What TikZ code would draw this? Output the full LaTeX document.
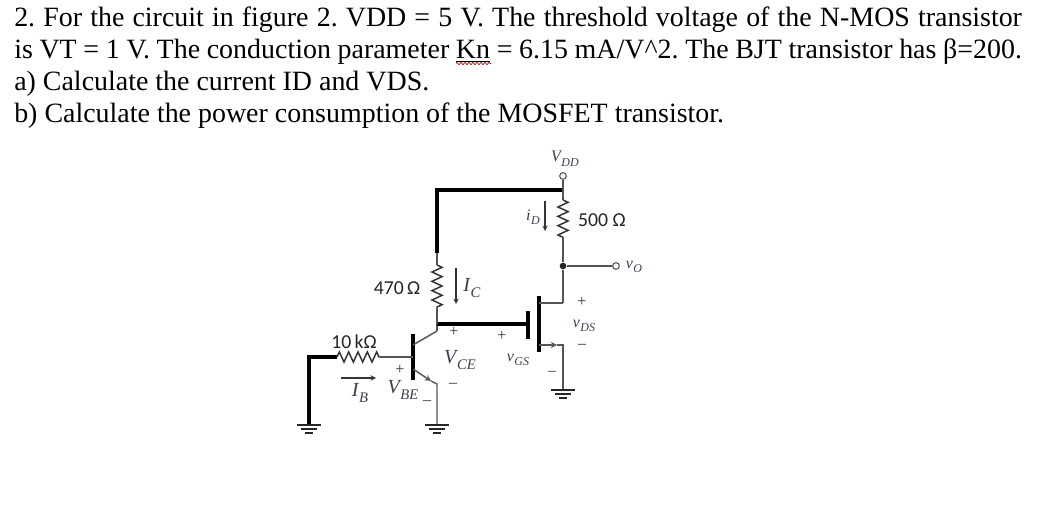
\documentclass[tikz,border=0pt]{standalone}
\usepackage{fontspec}
\setmainfont{Liberation Serif}
\newfontfamily\labelfont{Carlito}
\usetikzlibrary{decorations.pathmorphing}

\definecolor{wiregray}{HTML}{555555}
\definecolor{labelgray}{HTML}{3A4050}
\newcommand{\sublbl}[3]{{\itshape #1}\kern0.03em\raisebox{-0.28em}{\fontsize{#3}{#3}\selectfont\itshape #2}}

\tikzset{
  wire/.style={draw=wiregray,line width=1.1pt},
  busw/.style={draw=black,line width=2.9pt},
  plate/.style={draw=black,line width=2.5pt},
  resv/.style={draw=black!80,line width=1.1pt,decorate,
    decoration={zigzag,segment length=7pt,amplitude=3.8pt}},
  gnd/.style={draw=black!85,line width=1pt},
  curr/.style={draw=black!80,line width=0.8pt,-stealth},
  pin/.style={circle,draw=wiregray,fill=white,line width=0.8pt,inner sep=0pt,minimum size=5pt},
  dot/.style={circle,fill=black!85,inner sep=0pt,minimum size=5pt},
  para/.style={anchor=base west,inner sep=0pt,font=\fontsize{20.95}{24}\selectfont\frenchspacing},
  ohm/.style={inner sep=0pt,text=black!85,font=\labelfont\fontsize{14.8}{16}\selectfont},
  sym/.style={inner sep=0pt,text=labelgray,font=\fontsize{15}{16}\selectfont},
  small/.style={inner sep=0pt,text=labelgray,font=\fontsize{12}{12}\selectfont},
  sgn/.style={inner sep=0pt,text=black!80,font=\fontsize{12}{12}\selectfont}
}

\begin{document}
\begin{tikzpicture}[x=0.75pt,y=-0.75pt]
  \useasboundingbox (0,0) rectangle (1041,505);
  \fill[white] (0,0) rectangle (1041,505);

  % the question text
  \node[para] (lineone) at (14,27) {\makebox[755.8pt][s]{2. For the circuit in figure 2. VDD = 5 V. The threshold voltage of the N-MOS transistor}};
  \node[para] (linetwo) at (14,59) {\makebox[755.8pt][s]{is VT = 1 V. The conduction parameter \underline{Kn} = 6.15 mA/V\^{}2. The BJT transistor has β=200.}};
  \node[para] (linethree) at (14,91) {a) Calculate the current ID and VDS.};
  \node[para] (linefour) at (14,123) {b) Calculate the power consumption of the MOSFET transistor.};

  % spelling mark under Kn
  \coordinate (kna) at (456,63.5);
  \coordinate (knb) at (491,63.5);
  \draw[red!70!black,line width=0.5pt,decorate,decoration={zigzag,segment length=3pt,amplitude=0.9pt}] (kna) -- (knb);

  % points of the circuit
  \node[pin] (vdd) at (563,176) {};
  \coordinate (topr) at (563,190);
  \coordinate (topl) at (437,190);
  \coordinate (rcup) at (437,253);
  \coordinate (rcat) at (437,265);
  \coordinate (rcbt) at (437,308);
  \coordinate (cnode) at (437,324);
  \coordinate (cbjt) at (437,331);
  \coordinate (rdat) at (563,200);
  \coordinate (rdbt) at (563,238);
  \node[dot] (onode) at (563,266) {};
  \node[pin] (vout) at (616,266) {};
  \coordinate (drain) at (563,303);
  \coordinate (source) at (563,345);
  \coordinate (gndm) at (563,390);
  \coordinate (emit) at (437,384);
  \coordinate (gnde) at (437,425);
  \coordinate (gndb) at (309,425);
  \coordinate (inl) at (309,357);
  \coordinate (rba) at (337,357);
  \coordinate (rbb) at (380,357);

  % BJT
  \coordinate (base) at (413,357);
  \draw[plate] (413,334) -- (413,380);
  \draw[wire] (rbb) -- (base);
  \draw[wire] (413,345) -- (cbjt);
  \draw[wire] (cnode) -- (cbjt);
  \draw[wire,-stealth] (413,369) -- (431,381);
  \draw[wire] (431,381) -- (emit) -- (gnde);

  % MOSFET
  \coordinate (gate) at (528,324);
  \draw[plate] (528,311) -- (528,339);
  \draw[plate] (539,296) -- (539,352);
  \draw[wire] (539,303) -- (drain);
  \draw[wire,-stealth] (539,345) -- (557,345);
  \draw[wire] (557,345) -- (source) -- (gndm);

  % thick wires
  \draw[busw] (topr) -- (topl) -- (rcup);
  \draw[busw] (inl |- gndb) -- (inl) -- (rba);
  \draw[busw] (cnode) -- (gate);

  % thin wires and resistors
  \draw[wire] (vdd) -- (topr);
  \draw[wire] (topr) -- (rdat);
  \draw[resv] (rdat) -- (rdbt);
  \draw[wire] (rdbt) -- (onode) -- (drain);
  \draw[wire] (onode) -- (vout);
  \draw[wire] (rcup) -- (rcat);
  \draw[resv] (rcat) -- (rcbt);
  \draw[wire] (rcbt) -- (cnode);
  \draw[resv] (rba) -- (rbb);

  % grounds
  \foreach \gp in {gndb,gnde,gndm} {
    \draw[gnd] (\gp) ++(-12,0) -- ++(24,0);
    \draw[gnd] (\gp) ++(-8,4) -- ++(16,0);
    \draw[gnd] (\gp) ++(-4,8) -- ++(8,0);
  }

  % current arrows
  \coordinate (ica) at (456,268);
  \coordinate (icb) at (456,304);
  \coordinate (ida) at (545,201);
  \coordinate (idb) at (545,231);
  \coordinate (iba) at (341,378);
  \coordinate (ibb) at (376,378);
  \draw[curr] (ica) -- (icb);
  \draw[curr] (ida) -- (idb);
  \draw[curr] (iba) -- (ibb);

  % labels
  \node[ohm] (rclabel) at (397,288) {470\,Ω};
  \node[ohm] (rdlabel) at (602,220) {500 Ω};
  \node[ohm] (rblabel) at (354,342) {10\,kΩ};
  \node[small] (vddlabel) at (565,159) {\sublbl{V}{DD}{9}};
  \node[small] (idlabel) at (533,217) {\sublbl{i}{D}{9}};
  \node[small] (volabel) at (634,267) {\sublbl{v}{O}{9}};
  \node[sym] (iclabel) at (472,288) {\sublbl{I}{C}{11}};
  \node[small] (vdslabel) at (584,326) {\sublbl{v}{DS}{9}};
  \node[small] (vgslabel) at (518,360) {\sublbl{v}{GS}{9}};
  \node[sym] (vcelabel) at (460,360) {\sublbl{V}{CE}{11}};
  \node[sym] (vbelabel) at (403,390) {\sublbl{V}{BE}{11}};
  \node[sym] (iblabel) at (360,393) {\sublbl{I}{B}{11}};

  % signs
  \node[sgn] (pvce) at (454,332) {+};
  \node[sgn] (mvce) at (453,385) {–};
  \node[sgn] (pvgs) at (502,336) {+};
  \node[sgn] (mvgs) at (552,373) {–};
  \node[sgn] (pvds) at (582,302) {+};
  \node[sgn] (mvds) at (582,346) {–};
  \node[sgn] (pvbe) at (400,370) {+};
  \node[sgn] (mvbe) at (427,401) {\_};
\end{tikzpicture}
\end{document}
